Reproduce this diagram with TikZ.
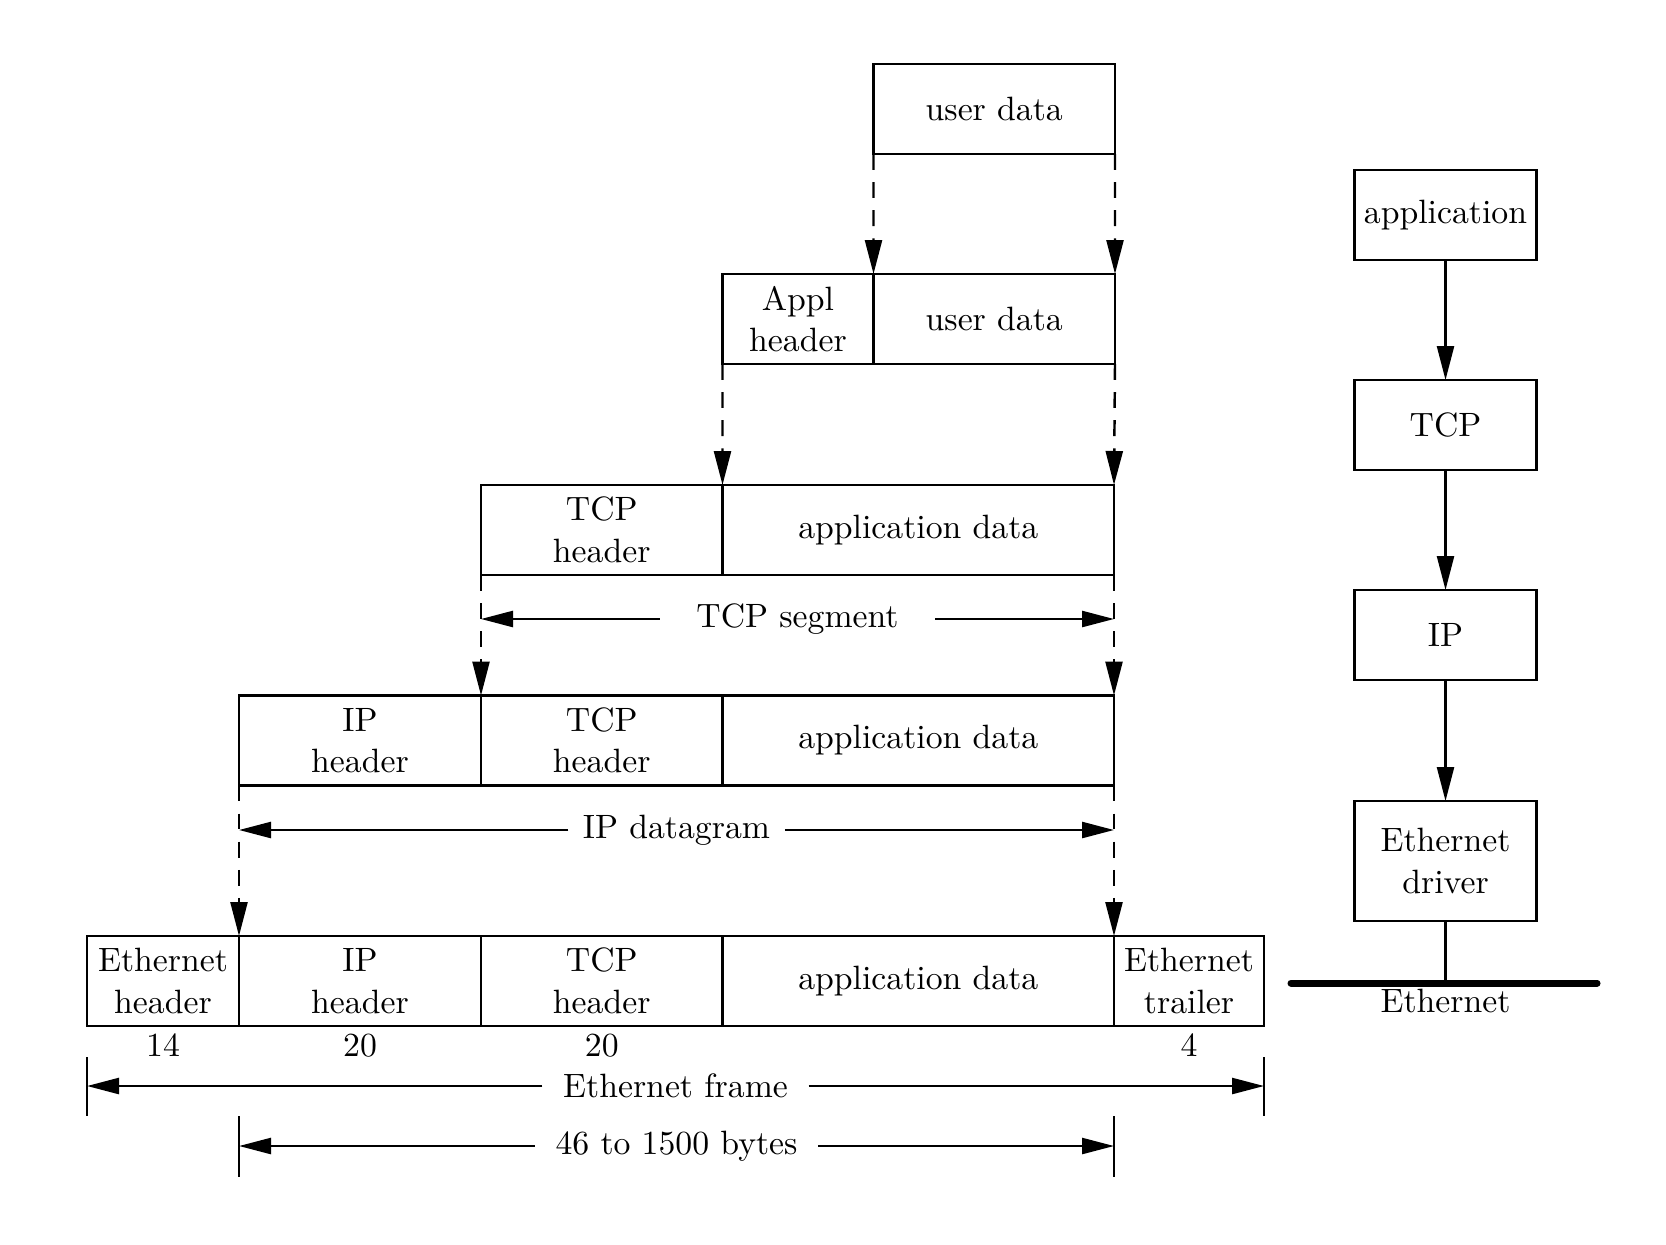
\documentclass[tikz,border=0pt]{standalone}
\usepackage{tikz}
\usetikzlibrary{positioning, arrows.meta}
\tikzset{
  cell/.style={rectangle, draw=black, line width=0.8pt, align=center, outer sep=0pt, inner sep=0pt, minimum height=0.9cm, font=\fontsize{9.6}{11.8}\selectfont},
  layer/.style={cell, minimum width=1.82cm},
  dashdown/.style={line width=0.7pt, dash pattern=on 4.5pt off 3.5pt, -{Triangle[length=3.4mm, width=1.7mm]}},
  flow/.style={line width=0.7pt, -{Triangle[length=3.4mm, width=1.7mm]}},
  sizearrow/.style={line width=0.7pt, -{Triangle[length=3.2mm, width=1.6mm]}},
  sizelabel/.style={inner ysep=0pt, inner xsep=0.2cm, font=\fontsize{9.6}{11.8}\selectfont},
  num/.style={inner sep=2pt, font=\fontsize{9.6}{11.8}\selectfont},
  tick/.style={line width=0.7pt},
}

\begin{document}
\begin{tikzpicture}
  \useasboundingbox (0,0) rectangle (16.66,-12.44);

  % encapsulation, top to bottom
  \node[cell, minimum width=2.415cm, anchor=west] (ud1) at (8.735,-1.09) {user data};

  \node[cell, minimum width=1.51cm, anchor=west] (ah) at (7.225,-3.19) {Appl\\header};
  \node[cell, minimum width=2.415cm, right=0pt of ah] (ud2) {user data};

  \node[cell, minimum width=2.415cm, anchor=west] (th3) at (4.81,-5.30) {TCP\\header};
  \node[cell, minimum width=3.915cm, right=0pt of th3] (ad3) {application data};

  \node[cell, minimum width=2.42cm, anchor=west] (ih4) at (2.39,-7.405) {IP\\header};
  \node[cell, minimum width=2.415cm, right=0pt of ih4] (th4) {TCP\\header};
  \node[cell, minimum width=3.915cm, right=0pt of th4] (ad4) {application data};

  \node[cell, minimum width=1.52cm, anchor=west] (eh) at (0.87,-9.81) {Ethernet\\header};
  \node[cell, minimum width=2.42cm, right=0pt of eh] (ih5) {IP\\header};
  \node[cell, minimum width=2.415cm, right=0pt of ih5] (th5) {TCP\\header};
  \node[cell, minimum width=3.915cm, right=0pt of th5] (ad5) {application data};
  \node[cell, minimum width=1.50cm, right=0pt of ad5] (et) {Ethernet\\trailer};

  \node[num, below=0pt of eh] (n14) {14};
  \node[num, below=0pt of ih5] (n20a) {20};
  \node[num, below=0pt of th5] (n20b) {20};
  \node[num, below=0pt of et] (n4) {4};

  \draw[dashdown] (ud1.south west) -- (ud2.north west);
  \draw[dashdown] (ud1.south east) -- (ud2.north east);
  \draw[dashdown] (ah.south west) -- (ad3.north west);
  \draw[dashdown] (ud2.south east) -- (ad3.north east);
  \draw[dashdown] (th3.south west) -- (th4.north west);
  \draw[dashdown] (ad3.south east) -- (ad4.north east);
  \draw[dashdown] (ih4.south west) -- (ih5.north west);
  \draw[dashdown] (ad4.south east) -- (ad5.north east);

  % sizes
  \node[sizelabel, inner xsep=0.36cm] (seg) at (7.975,-6.19) {TCP segment};
  \node[sizelabel, inner xsep=0.14cm] (dgram) at (6.765,-8.30) {IP datagram};
  \node[sizelabel] (frame) at (6.755,-10.86) {Ethernet frame};
  \node[sizelabel] (bytes) at (6.765,-11.46) {46 to 1500 bytes};

  \draw[sizearrow] (seg) -- (th3.west |- seg);
  \draw[sizearrow] (seg) -- (ad3.east |- seg);
  \draw[sizearrow] (dgram) -- (ih4.west |- dgram);
  \draw[sizearrow] (dgram) -- (ad4.east |- dgram);
  \draw[sizearrow] (frame) -- (eh.west |- frame);
  \draw[sizearrow] (frame) -- (et.east |- frame);
  \draw[sizearrow] (bytes) -- (ih5.west |- bytes);
  \draw[sizearrow] (bytes) -- (ad5.east |- bytes);

  \draw[tick] (eh.west |- frame) ++(0,0.29) -- ++(0,-0.59);
  \draw[tick] (et.east |- frame) ++(0,0.29) -- ++(0,-0.59);
  \draw[tick] (ih5.west |- bytes) ++(0,0.3) -- ++(0,-0.61);
  \draw[tick] (ad5.east |- bytes) ++(0,0.3) -- ++(0,-0.61);

  % protocol stack
  \node[layer] (app) at (14.455,-2.15) {application};
  \node[layer, below=1.2cm of app] (tcp) {TCP};
  \node[layer, below=1.2cm of tcp] (ip) {IP};
  \node[layer, minimum height=1.2cm, below=1.21cm of ip] (drv) {Ethernet\\driver};

  \draw[flow] (app) -- (tcp);
  \draw[flow] (tcp) -- (ip);
  \draw[flow] (ip) -- (drv);

  \coordinate (busl) at (12.91,-9.83);
  \coordinate (busr) at (15.97,-9.83);
  \draw[line width=2pt, line cap=round] (busl) -- (busr);
  \draw[tick] (drv.south) -- (drv.south |- busl);
  \node[num] (ether) at (14.455,-10.01) {Ethernet};
\end{tikzpicture}
\end{document}
